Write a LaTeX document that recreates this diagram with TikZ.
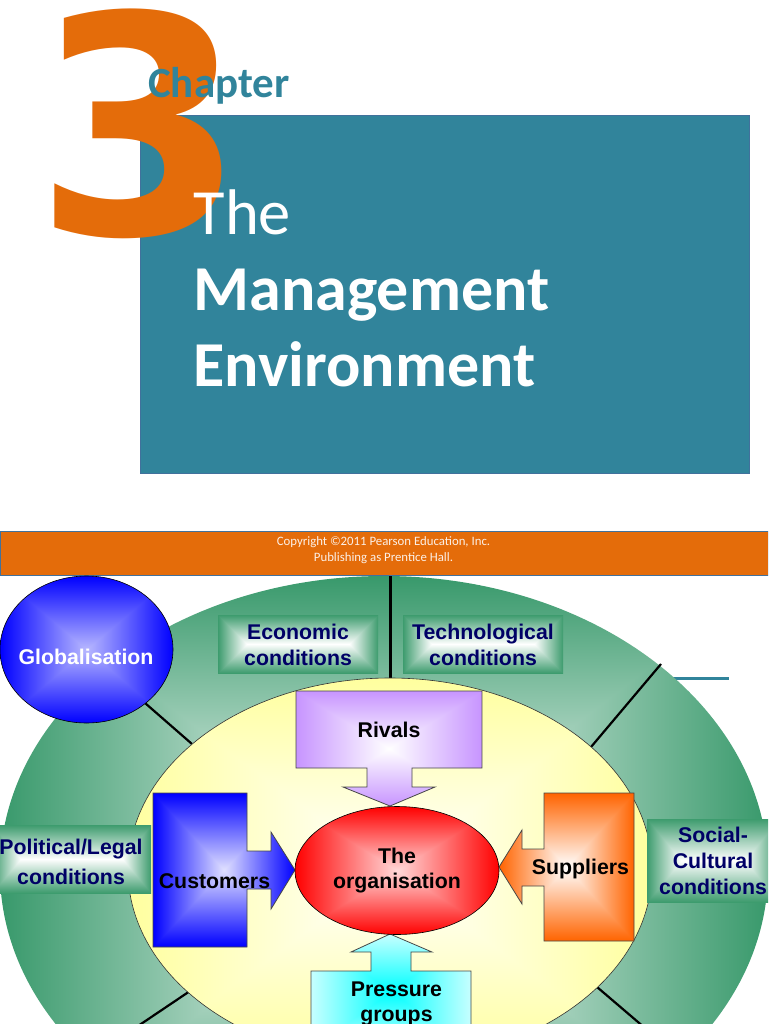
\documentclass[tikz,border=0pt]{standalone}
\usepackage{fontspec}
\setmainfont{Carlito}
\newfontfamily\arialb[BoldFont={Liberation Sans Bold}]{Liberation Sans}
\newfontfamily\dejab[BoldFont={DejaVu Sans Bold}]{DejaVu Sans}
\usetikzlibrary{shapes.geometric}
% rectangular path gradient: centre rgb, edge rgb, plateau half-width (path box = +-25)
\newcommand{\rectshade}[8]{%
  \pgfdeclarefunctionalshading{#1}{\pgfpoint{-50bp}{-50bp}}{\pgfpoint{50bp}{50bp}}{}{%
    abs 25 div exch abs #8 sub 25 #8 sub div
    2 copy lt {exch} if pop
    dup 1 gt {pop 1} if
    dup dup
    #5 #2 sub mul #2 add
    exch #6 #3 sub mul #3 add
    3 2 roll #7 #4 sub mul #4 add
  }%
}
\rectshade{gradring}{1}{1}{1}{0.22}{0.60}{0.42}{0}
\rectshade{gradyellow}{1}{1}{1}{1}{1}{0.62}{0}
\rectshade{gradglobe}{0.72}{0.72}{1}{0}{0}{1}{0}
\rectshade{gradblue}{0.88}{0.88}{1}{0}{0}{1}{0}
\rectshade{gradred}{1}{0.85}{0.85}{1}{0}{0}{0}
\rectshade{gradorange}{1}{1}{1}{1}{0.39}{0}{0}
\rectshade{gradpurple}{1}{1}{1}{0.78}{0.58}{1}{0}
\rectshade{gradcyan}{0}{1}{1}{0.78}{1}{1}{0}
\rectshade{gradlabel}{1}{1}{1}{0.24}{0.61}{0.43}{16}
\rectshade{gradlabelb}{1}{1}{1}{0.24}{0.61}{0.43}{12}
\definecolor{teal3}{HTML}{31849B}
\definecolor{edgeblue}{HTML}{41719C}
\definecolor{orange3}{HTML}{E46C0A}
\definecolor{navy3}{HTML}{000066}
\tikzset{
  x=1pt,y=-1pt,
  spoke/.style={line width=2.2pt,black},
  blob/.style={ellipse,inner sep=0pt,draw=black,line width=0.6pt,align=center},
  arrowshape/.style={draw=black!72,line width=0.8pt},
  lab/.style={font=\arialb\bfseries\fontsize{21.3}{26}\selectfont,align=center,text=black},
  envlab/.style={lab,text=navy3,inner sep=0pt},
  envbox/.style={shading=gradlabel,draw=none},
  title/.style={text=white,anchor=base west,inner sep=0pt,font=\fontsize{64.5}{64.5}\selectfont},
}
\begin{document}
\begin{tikzpicture}
\useasboundingbox (0,0) rectangle (768,1024);
\clip (0,0) rectangle (768,1024);
% first slide
\node[fill=teal3,draw=edgeblue,line width=0.8pt,minimum width=608.5pt,minimum height=358pt,inner sep=0pt,anchor=north west] (panel) at (140,115) {};
\node[text=orange3,anchor=base,inner sep=0pt,font=\dejab\bfseries\fontsize{304}{304}\selectfont] (three) at (140,234) {3};
\node[text=teal3,anchor=base west,inner sep=0pt,font=\bfseries\fontsize{43}{43}\selectfont] (chapter) at (148,97.5) {Chapter};
\node[title] (the) at (193.5,234) {The};
\node[title,font=\bfseries\fontsize{64}{64}\selectfont] (mgmt) at (193.5,310) {Management};
\node[title,font=\bfseries\fontsize{64}{64}\selectfont] (envt) at (193.5,386) {Environment};
% stray rule behind the ring
\coordinate (ruleA) at (660,678.5);
\coordinate (ruleB) at (729,678.5);
\draw[teal3,line width=2.4pt] (ruleA) -- (ruleB);
% ring
\node[ellipse,inner sep=0pt,minimum width=768pt,minimum height=590pt,shading=gradring] (ring) at (384,871) {};
% spokes
\coordinate (s1a) at (390.5,576); \coordinate (s1b) at (390.5,679);
\coordinate (s2a) at (145,703);   \coordinate (s2b) at (192,744);
\coordinate (s3a) at (661,664);   \coordinate (s3b) at (591,747);
\coordinate (s4a) at (190,991);   \coordinate (s4b) at (135,1028);
\coordinate (s5a) at (597,987);   \coordinate (s5b) at (645,1028);
\draw[spoke] (s1a) -- (s1b);
\draw[spoke] (s2a) -- (s2b);
\draw[spoke] (s3a) -- (s3b);
\draw[spoke] (s4a) -- (s4b);
\draw[spoke] (s5a) -- (s5b);
% inner
\node[ellipse,inner sep=0pt,minimum width=524pt,minimum height=384pt,shading=gradyellow,draw=black!80,line width=0.6pt] (inner) at (390,870) {};
% copyright bar
\node[fill=orange3,draw=edgeblue,line width=0.8pt,minimum width=768pt,minimum height=44pt,inner sep=0pt,anchor=north west] (bar) at (0,531) {};
\node[text=white!90!orange3,align=center,font=\fontsize{12.8}{16}\selectfont,inner sep=0pt] (copy) at (383.5,550) {Copyright ©2011 Pearson Education, Inc.\\Publishing as Prentice Hall.};
% globalisation
\node[blob,minimum width=173pt,minimum height=147pt,shading=gradglobe] (globe) at (86.5,649.5) {};
\node[lab,text=white,inner sep=0pt] (globet) at (86,657) {Globalisation};
% environment labels
\path[envbox] (218,615) rectangle (378,673);
\node[envlab] (econ) at (298,644.5) {Economic\\conditions};
\path[envbox] (403,615) rectangle (563,673);
\node[envlab] (tech) at (483,644.5) {Technological\\conditions};
\path[envbox] (-8,825) rectangle (151,893);
\node[envlab,font=\arialb\bfseries\fontsize{21.3}{30}\selectfont] (pol) at (71,862) {Political/Legal\\conditions};
\path[envbox,shading=gradlabelb] (647,819) rectangle (779,902);
\node[envlab,font=\arialb\bfseries\fontsize{21.3}{25.7}\selectfont] (soc) at (713,861) {Social-\\Cultural\\conditions};
% arrows
\path[arrowshape,shading=gradpurple] (296,691) -- (482,691) -- (482,768) -- (412,768) -- (412,787) -- (435,787) -- (390,806) -- (343,787) -- (367,787) -- (367,768) -- (296,768) -- cycle;
\node[lab,inner sep=0pt] (rivals) at (389,730) {Rivals};
\path[arrowshape,shading=gradblue] (153,793) -- (247,793) -- (247,851) -- (271,851) -- (271,832) -- (295,870) -- (271,909) -- (271,889) -- (247,889) -- (247,947) -- (153,947) -- cycle;
\node[lab,inner sep=0pt] (cust) at (214.5,881) {Customers};
\path[arrowshape,shading=gradorange] (634,793) -- (544,793) -- (544,849) -- (522,849) -- (522,830) -- (499,867) -- (522,904) -- (522,886) -- (544,886) -- (544,941) -- (634,941) -- cycle;
\node[lab,inner sep=0pt] (supp) at (580.5,869) {Suppliers};
\path[arrowshape,shading=gradcyan] (390,934) -- (432,952) -- (411,952) -- (411,971) -- (471,971) -- (471,1049) -- (311,1049) -- (311,971) -- (371,971) -- (371,952) -- (351,952) -- cycle;
\node[lab,inner sep=0pt,font=\arialb\bfseries\fontsize{21.3}{25}\selectfont] (press) at (396.5,1003.5) {Pressure\\groups};
% organisation
\node[blob,minimum width=204pt,minimum height=128pt,shading=gradred,lab,inner sep=0pt,font=\arialb\bfseries\fontsize{21.3}{25}\selectfont] (org) at (397,870.5) {The\\organisation};
\end{tikzpicture}
\end{document}
